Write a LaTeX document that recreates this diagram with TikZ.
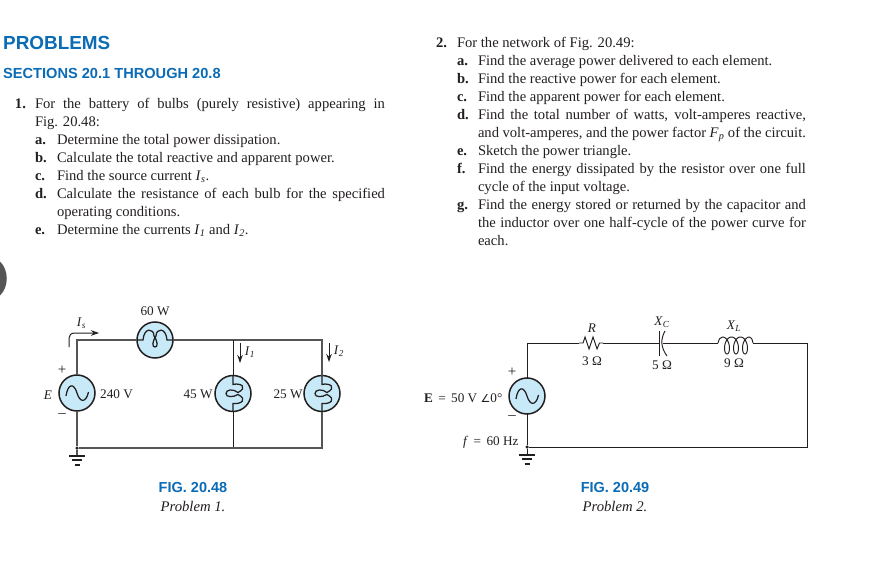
\documentclass[tikz,border=0pt]{standalone}
\usepackage{fontspec}
\setmainfont{Liberation Serif}
\setsansfont{Liberation Sans}
\newfontfamily\djv{DejaVu Sans}
\definecolor{ink}{HTML}{231F20}
\definecolor{headblue}{HTML}{0B6CB5}
\definecolor{bulbfill}{HTML}{C8EAF8}
\definecolor{wireL}{HTML}{555555}
\newcounter{tn}
\usetikzlibrary{arrows.meta}
\tikzset{
  txt/.style={anchor=base west,inner sep=0pt,outer sep=0pt,yshift=-0.7pt,text=ink,font=\fontsize{14.6}{16}\selectfont},
  lab/.style={inner sep=0pt,outer sep=0pt,text=ink,font=\fontsize{13.2}{15}\selectfont},
  sign/.style={inner sep=0pt,outer sep=0pt,text=ink,font=\fontsize{15}{16}\selectfont},
  heada/.style={anchor=base west,inner sep=0pt,text=headblue,font=\sffamily\bfseries\fontsize{18.9}{20}\selectfont},
  headb/.style={anchor=base west,inner sep=0pt,text=headblue,font=\sffamily\bfseries\fontsize{14.6}{16}\selectfont},
  figt/.style={inner sep=0pt,text=headblue,font=\sffamily\bfseries\fontsize{14.5}{16}\selectfont},
  figs/.style={inner sep=0pt,text=ink,font=\itshape\fontsize{14.7}{16}\selectfont},
  elem/.style={circle,draw=ink,line width=1.5pt,fill=bulbfill,minimum size=36pt,inner sep=0pt,outer sep=0pt},
  wireA/.style={draw=wireL,line width=1.4pt},
  wireB/.style={draw=ink,line width=0.95pt},
  inner/.style={draw=ink,line width=1.25pt},
  curarrow/.style={draw=ink,line width=1pt,-{Stealth[length=8pt,width=5.5pt]}},
  dotj/.style={circle,fill=ink,minimum size=3.5pt,inner sep=0pt},
  gbar/.style={draw=ink,line width=2pt},
}
\newcommand{\tl}[3]{\stepcounter{tn}\node[txt] (t\arabic{tn}) at (#1,#2) {#3};}
\newcommand{\jl}[4]{\stepcounter{tn}\node[txt] (t\arabic{tn}) at (#1,#2) {\makebox[#3pt][s]{#4}};}
\newcommand{\textI}[1]{\textit{I}\textsubscript{\textit{#1}}}
\begin{document}
\begin{tikzpicture}[x=1pt,y=-1pt]
\useasboundingbox (0,0) rectangle (871,583);
\fill[white] (0,0) rectangle (871,583);
\fill[wireL] (0,261.5) .. controls (9,270) and (9,287) .. (0,295.5) -- cycle;

% Headings
\node[heada] (hp) at (3,50) {PROBLEMS};
\node[headb] (hs) at (3,79) {SECTIONS 20.1 THROUGH 20.8};

% Left column
\tl{15}{107.5}{\textbf{1.}}
\jl{35}{107.5}{350}{For the battery of bulbs (purely resistive) appearing in}
\tl{35}{125.5}{Fig. 20.48:}
\tl{35}{143.5}{\textbf{a.}}\tl{57}{143.5}{Determine the total power dissipation.}
\tl{35}{161.5}{\textbf{b.}}\tl{57}{161.5}{Calculate the total reactive and apparent power.}
\tl{35}{179.5}{\textbf{c.}}\tl{57}{179.5}{Find the source current \textI{s}.}
\tl{35}{197.5}{\textbf{d.}}\jl{57}{197.5}{328}{Calculate the resistance of each bulb for the specified}
\tl{57}{215.5}{operating conditions.}
\tl{35}{233.5}{\textbf{e.}}\tl{57}{233.5}{Determine the currents \textI{1} and \textI{2}.}

% Right column
\tl{436}{47}{\textbf{2.}}\tl{457}{47}{For the network of Fig. 20.49:}
\tl{457}{65}{\textbf{a.}}\tl{478}{65}{Find the average power delivered to each element.}
\tl{457}{83}{\textbf{b.}}\tl{478}{83}{Find the reactive power for each element.}
\tl{457}{101}{\textbf{c.}}\tl{478}{101}{Find the apparent power for each element.}
\tl{457}{119}{\textbf{d.}}\jl{478}{119}{328}{Find the total number of watts, volt-amperes reactive,}
\jl{478}{137}{328}{and volt-amperes, and the power factor \textit{F}\textsubscript{\textit{p}} of the circuit.}
\tl{457}{155}{\textbf{e.}}\tl{478}{155}{Sketch the power triangle.}
\tl{457}{173}{\textbf{f.}}\jl{478}{173}{328}{Find the energy dissipated by the resistor over one full}
\tl{478}{191}{cycle of the input voltage.}
\tl{457}{209}{\textbf{g.}}\jl{478}{209}{328}{Find the energy stored or returned by the capacitor and}
\jl{478}{227}{328}{the inductor over one half-cycle of the power curve for}
\tl{478}{245}{each.}

% ---- Fig 20.48 ----
\node[elem] (E) at (77,393) {};
\node[elem] (B60) at (155,340) {};
\node[elem] (B45) at (233,393.5) {};
\node[elem] (B25) at (322,393.5) {};
\coordinate (c1tl) at (77,340);
\coordinate (c1j) at (233,340);
\coordinate (c1tr) at (322,340);
\coordinate (c1br) at (322,448);
\coordinate (c1bm) at (233,448);
\node[dotj] (c1g) at (77,448) {};
\coordinate (c1g0) at (77,456);
\draw[wireA] (E) -- (c1tl) -- (B60);
\draw[wireA] (B60) -- (c1j) -- (c1tr) -- (B25);
\draw[wireB] (c1j) -- (B45);
\draw[wireB] (B45) -- (c1bm);
\draw[wireA] (B25) -- (c1br) -- (c1g) -- (E);
\draw[wireA] (c1g) -- (c1g0);
% ground 1
\draw[gbar] (69,456) -- (85,456);
\draw[gbar] (72,460) -- (82,460);
\draw[gbar] (74.5,464.5) -- (79.5,464.5);
% sine
\draw[inner,shift={(E.center)}] (-11,3) .. controls (-9,-10) and (-3,-10) .. (0,0) .. controls (3,10) and (9,10) .. (11.5,-1);
% filaments
\draw[inner,shift={(B60.center)}] (-18,0) -- (-12,0) .. controls (-11,-13) and (-1,-12) .. (-1,-4) .. controls (3,2) and (3,7) .. (0,7) .. controls (-3,7) and (-3,2) .. (1,-4) .. controls (1,-12) and (11,-13) .. (12,0) -- (18,0);
\foreach \n in {B45,B25}{
\draw[inner,shift={(\n.center)}] (0,-18) -- (0,-9) .. controls (8,-11) and (15,-6) .. (5,-1) .. controls (0,-5) and (-7,-4) .. (-7,0) .. controls (-7,4) and (0,4) .. (5,1) .. controls (15,6) and (8,11) .. (0,10) -- (0,18);
}
% current arrows
\coordinate (isa) at (69,347);
\coordinate (isb) at (99,333);
\draw[curarrow] (isa) -- (69,338) .. controls (69,335) and (71,333) .. (75,333) -- (isb);
\coordinate (i1a) at (240,343); \coordinate (i1b) at (240,363);
\coordinate (i2a) at (329,343); \coordinate (i2b) at (329,362);
\draw[curarrow] (i1a) -- (i1b);
\draw[curarrow] (i2a) -- (i2b);
% labels
\node[lab] (lIs) at (81.5,323) {\textI{s}};
\node[lab] (l60) at (155,311) {60 W};
\node[sign] (lp1) at (62,370) {+};
\node[lab] (lE1) at (48,395.5) {\textit{E}};
\node[sign] (lm1) at (62,416) {–};
\node[lab] (l240) at (116.5,394) {240 V};
\node[lab] (l45) at (198,394) {45 W};
\node[lab] (l25) at (288,394) {25 W};
\node[lab] (lI1) at (250,352) {\textI{1}};
\node[lab] (lI2) at (339,351) {\textI{2}};
\node[figt] (f1) at (193,488) {FIG. 20.48};
\node[figs] (f1s) at (193,507) {Problem 1.};

% ---- Fig 20.49 ----
\node[elem] (S) at (527,396) {};
\coordinate (c2tl) at (527,343);
\coordinate (Ra) at (579,343);
\coordinate (Rb) at (603,343);
\coordinate (Ca) at (659,343);
\coordinate (Cb) at (662.5,343);
\coordinate (La) at (718,343);
\coordinate (Lb) at (753,343);
\coordinate (c2tr) at (807,343);
\coordinate (c2br) at (807,447);
\node[dotj] (c2g) at (527,447) {};
\coordinate (c2g0) at (527,455);
\draw[wireB] (S) -- (c2tl) -- (Ra);
\draw[wireB] (Ra) -- ++(4,0) -- ++(2,-6) -- ++(4,12) -- ++(4,-12) -- ++(4,12) -- ++(2.5,-6) -- (Rb);
\draw[wireB] (Rb) -- (Ca);
\draw[wireB] (Ca) ++(0,-12) -- ++(0,25);
\draw[wireB] (665,331) .. controls (660.5,339) and (660.5,347) .. (667,356);
\draw[wireB] (Cb) -- (La);
\draw[wireB] (La) .. controls (719,339) and (720.5,337) .. (722.5,337)
  plot[domain=-180:900,samples=120,smooth] ({727+1.4324*rad(\x)-4.5*sin(\x)},{345.5+8.5*cos(\x)})
  .. controls (751.5,337) and (752,339) .. (Lb);
\draw[wireB] (Lb) -- (c2tr) -- (c2br) -- (c2g) -- (S);
\draw[wireB] (c2g) -- (c2g0);
\draw[gbar] (519,455) -- (535,455);
\draw[gbar] (522,459) -- (532,459);
\draw[gbar] (524.5,463.5) -- (529.5,463.5);
\draw[inner,shift={(S.center)}] (-11,3) .. controls (-9,-10) and (-3,-10) .. (0,0) .. controls (3,10) and (9,10) .. (11.5,-1);
\node[lab] (lR) at (592,328) {\textit{R}};
\node[lab] (l3) at (592,361) {3 Ω};
\node[lab] (lXC) at (662,322) {\textit{X}\textsubscript{\textit{C}}};
\node[lab] (l5) at (662,365) {5 Ω};
\node[lab] (lXL) at (734,326) {\textit{X}\textsubscript{\textit{L}}};
\node[lab] (l9) at (734,363) {9 Ω};
\node[sign] (lp2) at (512,372) {+};
\node[sign] (lm2) at (512,418) {–};
\node[lab,anchor=base west] (lEq) at (424,402) {\textbf{E} \,=\, 50 V {\djv\fontsize{11}{12}\selectfont ∠}0°};
\node[lab,anchor=base west] (lf) at (463,445) {\textit{f} \,=\, 60 Hz};
\node[figt] (f2) at (615,488) {FIG. 20.49};
\node[figs] (f2s) at (615,507) {Problem 2.};
\end{tikzpicture}
\end{document}
